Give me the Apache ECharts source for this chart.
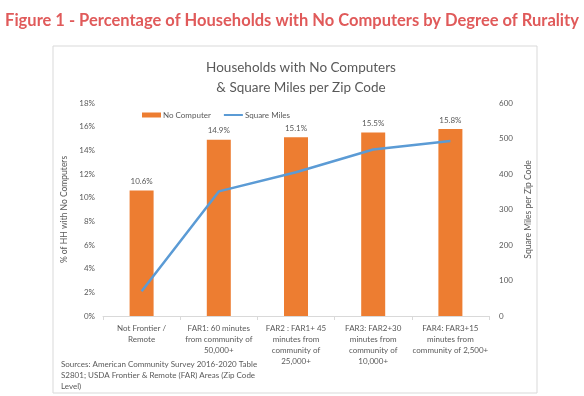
<!DOCTYPE html>
<html>
<head>
<meta charset="utf-8">
<script src="https://cdn.jsdelivr.net/npm/echarts@6/dist/echarts.min.js"></script>
<style>
  html, body { margin: 0; padding: 0; background: #fff; }
  #main { width: 584px; height: 396px; }
</style>
</head>
<body>
<div id="main"></div>
<script>
var categories = [
  'Not Frontier /\nRemote',
  'FAR1: 60 minutes\nfrom community of\n50,000+',
  'FAR2 : FAR1+ 45\nminutes from\ncommunity of\n25,000+',
  'FAR3: FAR2+30\nminutes from\ncommunity of\n10,000+',
  'FAR4: FAR3+15\nminutes from\ncommunity of 2,500+'
];
var noComputer = [10.6, 14.9, 15.1, 15.5, 15.8];
var squareMiles = [70, 351, 405, 469, 493];

var grey = '#595959';
var font = 'Lato';

var chart = echarts.init(document.getElementById('main'));
var option = {
  backgroundColor: '#fff',
  textStyle: { fontFamily: font },
  title: [
    {
      text: 'Figure 1 - Percentage of Households with No Computers by Degree of Rurality',
      left: 'center', top: 7,
      textStyle: { color: '#e05a5a', fontSize: 16.5, fontWeight: 'bold', fontFamily: font }
    },
    {
      text: 'Households with No Computers\n& Square Miles per Zip Code',
      left: 296, textAlign: 'center', top: 53,
      textStyle: { color: grey, fontSize: 13.5, fontWeight: 'normal', lineHeight: 19.5, fontFamily: font }
    }
  ],
  graphic: [
    {
      type: 'rect', silent: true, z: -1,
      shape: { x: 53, y: 46, width: 484, height: 347 },
      style: { fill: '#fff', stroke: '#d9d9d9', lineWidth: 1 }
    },
    {
      type: 'text', left: 61, top: 359,
      style: {
        text: 'Sources: American Community Survey 2016-2020 Table\nS2801; USDA Frontier & Remote (FAR) Areas (Zip Code\nLevel)',
        fill: grey, font: '8px ' + font, lineHeight: 11
      }
    }
  ],
  legend: {
    left: 137, top: 106,
    itemGap: 12, itemWidth: 19, itemHeight: 5,
    textStyle: { color: grey, fontSize: 8, fontFamily: font, padding: [0, 0, 0, -3] },
    data: [
      { name: 'No Computer', icon: 'rect' },
      { name: 'Square Miles', itemStyle: { opacity: 0 } }
    ]
  },
  grid: { left: 103, right: 95, top: 103, bottom: 80 },
  xAxis: {
    type: 'category',
    data: categories,
    axisLine: { lineStyle: { color: '#d9d9d9' } },
    axisTick: { show: true, length: 4, lineStyle: { color: '#d9d9d9' } },
    axisLabel: { color: grey, fontSize: 8, lineHeight: 11, margin: 7, interval: 0 }
  },
  yAxis: [
    {
      type: 'value', min: 0, max: 18, interval: 2,
      name: '% of HH with No Computers',
      nameLocation: 'middle', nameGap: 26, nameRotate: 90,
      nameTextStyle: { color: grey, fontSize: 8.5 },
      axisLabel: { formatter: '{value}%', color: grey, fontSize: 8, margin: 8 },
      splitLine: { show: false },
      axisLine: { show: false }, axisTick: { show: false }
    },
    {
      type: 'value', min: 0, max: 600, interval: 100,
      name: 'Square Miles per Zip Code',
      nameLocation: 'middle', nameGap: 23, nameRotate: 90,
      nameTextStyle: { color: grey, fontSize: 8.5 },
      axisLabel: { color: grey, fontSize: 8, margin: 10 },
      splitLine: { show: false },
      axisLine: { show: false }, axisTick: { show: false }
    }
  ],
  series: [
    {
      name: 'No Computer', type: 'bar',
      data: noComputer, barWidth: 24,
      itemStyle: { color: '#ed7d31' },
      label: {
        show: true, position: 'top', distance: 5,
        formatter: '{c}%', color: grey, fontSize: 8
      }
    },
    {
      name: 'Square Miles', type: 'line', yAxisIndex: 1,
      data: squareMiles, showSymbol: false, symbol: 'none',
      lineStyle: { color: '#5b9bd5', width: 2.5 },
      itemStyle: { color: '#5b9bd5' }
    }
  ]
};
chart.setOption(option);
</script>
</body>
</html>
